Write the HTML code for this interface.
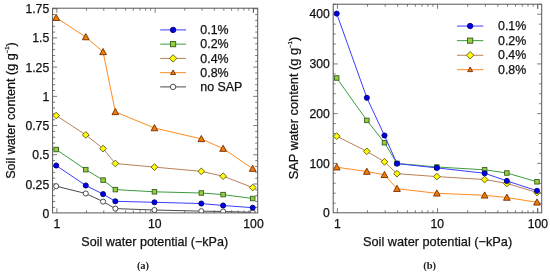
<!DOCTYPE html>
<html><head><meta charset="utf-8"><title>Soil water content</title>
<style>
html,body{margin:0;padding:0;background:#fff;}
svg{display:block;}
text{font-family:"Liberation Sans", Arial, sans-serif;font-size:12.55px;fill:#111;stroke:#111;stroke-width:0.25px;}
text.cap{font-family:"Liberation Serif","Times New Roman",serif;font-weight:bold;font-size:10.5px;fill:#222;stroke:none;}
tspan.sup{font-size:6px;}
text.tk{font-size:12.2px;}
text.lg{font-size:12.4px;}
</style></head>
<body>
<svg width="550" height="274" viewBox="0 0 550 274">
<rect width="550" height="274" fill="#fff"/>
<clipPath id="cpa"><rect x="52.6" y="8.2" width="205.1" height="204.70000000000002"/></clipPath>
<path d="M56.90 212.9v-4.6M56.90 8.2v4.6M86.48 212.9v-2.5M86.48 8.2v2.5M103.78 212.9v-2.5M103.78 8.2v2.5M116.05 212.9v-2.5M116.05 8.2v2.5M125.57 212.9v-2.5M125.57 8.2v2.5M133.35 212.9v-2.5M133.35 8.2v2.5M139.93 212.9v-2.5M139.93 8.2v2.5M145.63 212.9v-2.5M145.63 8.2v2.5M150.65 212.9v-2.5M150.65 8.2v2.5M155.15 212.9v-4.6M155.15 8.2v4.6M184.73 212.9v-2.5M184.73 8.2v2.5M202.03 212.9v-2.5M202.03 8.2v2.5M214.30 212.9v-2.5M214.30 8.2v2.5M223.82 212.9v-2.5M223.82 8.2v2.5M231.60 212.9v-2.5M231.60 8.2v2.5M238.18 212.9v-2.5M238.18 8.2v2.5M243.88 212.9v-2.5M243.88 8.2v2.5M248.90 212.9v-2.5M248.90 8.2v2.5M253.40 212.9v-4.6M253.40 8.2v4.6M253.40 212.9v-4.6M253.40 8.2v4.6M52.6 207.36h2.5M257.7 207.36h-2.5M52.6 201.52h2.5M257.7 201.52h-2.5M52.6 195.67h2.5M257.7 195.67h-2.5M52.6 189.83h2.5M257.7 189.83h-2.5M52.6 183.99h4.5M257.7 183.99h-4.5M52.6 178.15h2.5M257.7 178.15h-2.5M52.6 172.30h2.5M257.7 172.30h-2.5M52.6 166.46h2.5M257.7 166.46h-2.5M52.6 160.62h2.5M257.7 160.62h-2.5M52.6 154.78h4.5M257.7 154.78h-4.5M52.6 148.93h2.5M257.7 148.93h-2.5M52.6 143.09h2.5M257.7 143.09h-2.5M52.6 137.25h2.5M257.7 137.25h-2.5M52.6 131.41h2.5M257.7 131.41h-2.5M52.6 125.56h4.5M257.7 125.56h-4.5M52.6 119.72h2.5M257.7 119.72h-2.5M52.6 113.88h2.5M257.7 113.88h-2.5M52.6 108.04h2.5M257.7 108.04h-2.5M52.6 102.19h2.5M257.7 102.19h-2.5M52.6 96.35h4.5M257.7 96.35h-4.5M52.6 90.51h2.5M257.7 90.51h-2.5M52.6 84.67h2.5M257.7 84.67h-2.5M52.6 78.82h2.5M257.7 78.82h-2.5M52.6 72.98h2.5M257.7 72.98h-2.5M52.6 67.14h4.5M257.7 67.14h-4.5M52.6 61.30h2.5M257.7 61.30h-2.5M52.6 55.45h2.5M257.7 55.45h-2.5M52.6 49.61h2.5M257.7 49.61h-2.5M52.6 43.77h2.5M257.7 43.77h-2.5M52.6 37.93h4.5M257.7 37.93h-4.5M52.6 32.08h2.5M257.7 32.08h-2.5M52.6 26.24h2.5M257.7 26.24h-2.5M52.6 20.40h2.5M257.7 20.40h-2.5M52.6 14.55h2.5M257.7 14.55h-2.5M52.6 8.71h4.5M257.7 8.71h-4.5" stroke="#585858" stroke-width="0.8" fill="none"/>
<g clip-path="url(#cpa)"><polyline points="56.20,186.20 85.78,193.50 103.08,201.60 115.35,208.60 154.45,210.00 201.33,211.15 223.12,211.50 252.70,212.30" fill="none" stroke="#4a4a4a" stroke-width="1.0" stroke-linejoin="round"/><circle cx="56.20" cy="186.20" r="2.55" fill="#ffffff" stroke="#3a3a3a" stroke-width="0.9"/><circle cx="85.78" cy="193.50" r="2.55" fill="#ffffff" stroke="#3a3a3a" stroke-width="0.9"/><circle cx="103.08" cy="201.60" r="2.55" fill="#ffffff" stroke="#3a3a3a" stroke-width="0.9"/><circle cx="115.35" cy="208.60" r="2.55" fill="#ffffff" stroke="#3a3a3a" stroke-width="0.9"/><circle cx="154.45" cy="210.00" r="2.55" fill="#ffffff" stroke="#3a3a3a" stroke-width="0.9"/><circle cx="201.33" cy="211.15" r="2.55" fill="#ffffff" stroke="#3a3a3a" stroke-width="0.9"/><circle cx="223.12" cy="211.50" r="2.55" fill="#ffffff" stroke="#3a3a3a" stroke-width="0.9"/><circle cx="252.70" cy="212.30" r="2.55" fill="#ffffff" stroke="#3a3a3a" stroke-width="0.9"/><polyline points="56.20,17.70 85.78,37.00 103.08,51.90 115.35,111.90 154.45,128.00 201.33,138.90 223.12,148.60 252.70,168.60" fill="none" stroke="#ff8c1e" stroke-width="1.0" stroke-linejoin="round"/><path d="M52.85 20.45L56.20 14.30L59.55 20.45Z" fill="#f57a00" stroke="#6e2e00" stroke-width="0.9"/><path d="M82.43 39.75L85.78 33.60L89.13 39.75Z" fill="#f57a00" stroke="#6e2e00" stroke-width="0.9"/><path d="M99.73 54.65L103.08 48.50L106.43 54.65Z" fill="#f57a00" stroke="#6e2e00" stroke-width="0.9"/><path d="M112.00 114.65L115.35 108.50L118.70 114.65Z" fill="#f57a00" stroke="#6e2e00" stroke-width="0.9"/><path d="M151.10 130.75L154.45 124.60L157.80 130.75Z" fill="#f57a00" stroke="#6e2e00" stroke-width="0.9"/><path d="M197.98 141.65L201.33 135.50L204.68 141.65Z" fill="#f57a00" stroke="#6e2e00" stroke-width="0.9"/><path d="M219.77 151.35L223.12 145.20L226.47 151.35Z" fill="#f57a00" stroke="#6e2e00" stroke-width="0.9"/><path d="M249.35 171.35L252.70 165.20L256.05 171.35Z" fill="#f57a00" stroke="#6e2e00" stroke-width="0.9"/><polyline points="56.20,115.50 85.78,134.90 103.08,148.60 115.35,163.50 154.45,167.10 201.33,171.35 223.12,176.20 252.70,187.55" fill="none" stroke="#b9805a" stroke-width="1.0" stroke-linejoin="round"/><path d="M52.85 115.50L56.20 112.15L59.55 115.50L56.20 118.85Z" fill="#ffff00" stroke="#5c5418" stroke-width="0.9"/><path d="M82.43 134.90L85.78 131.55L89.13 134.90L85.78 138.25Z" fill="#ffff00" stroke="#5c5418" stroke-width="0.9"/><path d="M99.73 148.60L103.08 145.25L106.43 148.60L103.08 151.95Z" fill="#ffff00" stroke="#5c5418" stroke-width="0.9"/><path d="M112.00 163.50L115.35 160.15L118.70 163.50L115.35 166.85Z" fill="#ffff00" stroke="#5c5418" stroke-width="0.9"/><path d="M151.10 167.10L154.45 163.75L157.80 167.10L154.45 170.45Z" fill="#ffff00" stroke="#5c5418" stroke-width="0.9"/><path d="M197.98 171.35L201.33 168.00L204.68 171.35L201.33 174.70Z" fill="#ffff00" stroke="#5c5418" stroke-width="0.9"/><path d="M219.77 176.20L223.12 172.85L226.47 176.20L223.12 179.55Z" fill="#ffff00" stroke="#5c5418" stroke-width="0.9"/><path d="M249.35 187.55L252.70 184.20L256.05 187.55L252.70 190.90Z" fill="#ffff00" stroke="#5c5418" stroke-width="0.9"/><polyline points="56.20,149.50 85.78,169.65 103.08,180.10 115.35,189.60 154.45,191.80 201.33,193.00 223.12,194.60 252.70,198.50" fill="none" stroke="#3c9c3c" stroke-width="1.0" stroke-linejoin="round"/><rect x="53.95" y="147.25" width="4.5" height="4.5" fill="#9acd3c" stroke="#33601f" stroke-width="0.9"/><rect x="83.53" y="167.40" width="4.5" height="4.5" fill="#9acd3c" stroke="#33601f" stroke-width="0.9"/><rect x="100.83" y="177.85" width="4.5" height="4.5" fill="#9acd3c" stroke="#33601f" stroke-width="0.9"/><rect x="113.10" y="187.35" width="4.5" height="4.5" fill="#9acd3c" stroke="#33601f" stroke-width="0.9"/><rect x="152.20" y="189.55" width="4.5" height="4.5" fill="#9acd3c" stroke="#33601f" stroke-width="0.9"/><rect x="199.08" y="190.75" width="4.5" height="4.5" fill="#9acd3c" stroke="#33601f" stroke-width="0.9"/><rect x="220.87" y="192.35" width="4.5" height="4.5" fill="#9acd3c" stroke="#33601f" stroke-width="0.9"/><rect x="250.45" y="196.25" width="4.5" height="4.5" fill="#9acd3c" stroke="#33601f" stroke-width="0.9"/><polyline points="56.20,165.50 85.78,185.50 103.08,194.10 115.35,201.30 154.45,202.30 201.33,203.55 223.12,205.50 252.70,207.70" fill="none" stroke="#3c3cff" stroke-width="1.0" stroke-linejoin="round"/><circle cx="56.20" cy="165.50" r="2.55" fill="#0000e6" stroke="#000078" stroke-width="0.9"/><circle cx="85.78" cy="185.50" r="2.55" fill="#0000e6" stroke="#000078" stroke-width="0.9"/><circle cx="103.08" cy="194.10" r="2.55" fill="#0000e6" stroke="#000078" stroke-width="0.9"/><circle cx="115.35" cy="201.30" r="2.55" fill="#0000e6" stroke="#000078" stroke-width="0.9"/><circle cx="154.45" cy="202.30" r="2.55" fill="#0000e6" stroke="#000078" stroke-width="0.9"/><circle cx="201.33" cy="203.55" r="2.55" fill="#0000e6" stroke="#000078" stroke-width="0.9"/><circle cx="223.12" cy="205.50" r="2.55" fill="#0000e6" stroke="#000078" stroke-width="0.9"/><circle cx="252.70" cy="207.70" r="2.55" fill="#0000e6" stroke="#000078" stroke-width="0.9"/></g>
<rect x="52.6" y="8.2" width="205.1" height="204.70000000000002" fill="none" stroke="#585858" stroke-width="1"/>
<text class="tk" x="49.2" y="217.75" text-anchor="end">0</text>
<text class="tk" x="49.2" y="188.54" text-anchor="end">0.25</text>
<text class="tk" x="49.2" y="159.33" text-anchor="end">0.5</text>
<text class="tk" x="49.2" y="130.11" text-anchor="end">0.75</text>
<text class="tk" x="49.2" y="100.90" text-anchor="end">1</text>
<text class="tk" x="49.2" y="71.69" text-anchor="end">1.25</text>
<text class="tk" x="49.2" y="42.48" text-anchor="end">1.5</text>
<text class="tk" x="49.2" y="12.86" text-anchor="end">1.75</text>
<text x="57.00" y="228.00" text-anchor="middle" class="tk">1</text>
<text x="154.85" y="228.00" text-anchor="middle" class="tk">10</text>
<text x="253.50" y="228.00" text-anchor="middle" class="tk">100</text>
<text x="154.75" y="246.4" text-anchor="middle" style="font-size:12.55px">Soil water potential (−kPa)</text>
<text transform="translate(14.7 110.55) rotate(-90)" text-anchor="middle" style="font-size:12.62px">Soil water content (g g<tspan class="sup" dy="-6.2">−1</tspan><tspan dy="6.2">)</tspan></text>
<path d="M160.2 29.9H186.0" stroke="#3c3cff" stroke-width="1"/>
<circle cx="173.10" cy="29.90" r="2.7" fill="#0000e6" stroke="#000078" stroke-width="0.9"/>
<text class="lg" x="200.3" y="34.00">0.1%</text>
<path d="M160.2 44.15H186.0" stroke="#3c9c3c" stroke-width="1"/>
<rect x="170.50" y="41.55" width="5.2" height="5.2" fill="#9acd3c" stroke="#33601f" stroke-width="0.9"/>
<text class="lg" x="200.3" y="48.25">0.2%</text>
<path d="M160.2 58.4H186.0" stroke="#b9805a" stroke-width="1"/>
<path d="M169.40 58.40L173.10 54.70L176.80 58.40L173.10 62.10Z" fill="#ffff00" stroke="#5c5418" stroke-width="0.9"/>
<text class="lg" x="200.3" y="62.50">0.4%</text>
<path d="M160.2 72.65H186.0" stroke="#ff8c1e" stroke-width="1"/>
<path d="M170.60 74.55L173.10 69.95L175.60 74.55Z" fill="#f57a00" stroke="#6e2e00" stroke-width="0.9"/>
<text class="lg" x="200.3" y="76.75">0.8%</text>
<path d="M160.2 86.9H186.0" stroke="#4a4a4a" stroke-width="1"/>
<circle cx="173.10" cy="86.90" r="2.7" fill="#ffffff" stroke="#3a3a3a" stroke-width="0.9"/>
<text class="lg" x="200.3" y="91.00">no SAP</text>
<text x="143" y="269.3" text-anchor="middle" class="cap">(a)</text>
<clipPath id="cpb"><rect x="333.2" y="4.2" width="208.50000000000006" height="208.60000000000002"/></clipPath>
<path d="M337.40 212.8v-4.6M337.40 4.2v4.6M367.55 212.8v-2.5M367.55 4.2v2.5M385.18 212.8v-2.5M385.18 4.2v2.5M397.70 212.8v-2.5M397.70 4.2v2.5M407.40 212.8v-2.5M407.40 4.2v2.5M415.33 212.8v-2.5M415.33 4.2v2.5M422.04 212.8v-2.5M422.04 4.2v2.5M427.84 212.8v-2.5M427.84 4.2v2.5M432.97 212.8v-2.5M432.97 4.2v2.5M437.55 212.8v-4.6M437.55 4.2v4.6M467.70 212.8v-2.5M467.70 4.2v2.5M485.33 212.8v-2.5M485.33 4.2v2.5M497.85 212.8v-2.5M497.85 4.2v2.5M507.55 212.8v-2.5M507.55 4.2v2.5M515.48 212.8v-2.5M515.48 4.2v2.5M522.19 212.8v-2.5M522.19 4.2v2.5M527.99 212.8v-2.5M527.99 4.2v2.5M533.12 212.8v-2.5M533.12 4.2v2.5M537.70 212.8v-4.6M537.70 4.2v4.6M537.70 212.8v-4.6M537.70 4.2v4.6M333.2 203.16h2.5M541.7 203.16h-2.5M333.2 193.21h2.5M541.7 193.21h-2.5M333.2 183.27h2.5M541.7 183.27h-2.5M333.2 173.32h2.5M541.7 173.32h-2.5M333.2 163.38h4.5M541.7 163.38h-4.5M333.2 153.43h2.5M541.7 153.43h-2.5M333.2 143.49h2.5M541.7 143.49h-2.5M333.2 133.54h2.5M541.7 133.54h-2.5M333.2 123.59h2.5M541.7 123.59h-2.5M333.2 113.65h4.5M541.7 113.65h-4.5M333.2 103.70h2.5M541.7 103.70h-2.5M333.2 93.76h2.5M541.7 93.76h-2.5M333.2 83.82h2.5M541.7 83.82h-2.5M333.2 73.87h2.5M541.7 73.87h-2.5M333.2 63.92h4.5M541.7 63.92h-4.5M333.2 53.98h2.5M541.7 53.98h-2.5M333.2 44.04h2.5M541.7 44.04h-2.5M333.2 34.09h2.5M541.7 34.09h-2.5M333.2 24.14h2.5M541.7 24.14h-2.5M333.2 14.20h4.5M541.7 14.20h-4.5M333.2 4.26h2.5M541.7 4.26h-2.5" stroke="#585858" stroke-width="0.8" fill="none"/>
<g clip-path="url(#cpb)"><polyline points="336.70,167.20 366.85,171.55 384.48,174.80 397.00,188.70 436.85,193.30 484.63,195.30 506.85,197.50 537.00,202.30" fill="none" stroke="#ff8c1e" stroke-width="1.0" stroke-linejoin="round"/><path d="M333.35 169.95L336.70 163.80L340.05 169.95Z" fill="#f57a00" stroke="#6e2e00" stroke-width="0.9"/><path d="M363.50 174.30L366.85 168.15L370.20 174.30Z" fill="#f57a00" stroke="#6e2e00" stroke-width="0.9"/><path d="M381.13 177.55L384.48 171.40L387.83 177.55Z" fill="#f57a00" stroke="#6e2e00" stroke-width="0.9"/><path d="M393.65 191.45L397.00 185.30L400.35 191.45Z" fill="#f57a00" stroke="#6e2e00" stroke-width="0.9"/><path d="M433.50 196.05L436.85 189.90L440.20 196.05Z" fill="#f57a00" stroke="#6e2e00" stroke-width="0.9"/><path d="M481.28 198.05L484.63 191.90L487.98 198.05Z" fill="#f57a00" stroke="#6e2e00" stroke-width="0.9"/><path d="M503.50 200.25L506.85 194.10L510.20 200.25Z" fill="#f57a00" stroke="#6e2e00" stroke-width="0.9"/><path d="M533.65 205.05L537.00 198.90L540.35 205.05Z" fill="#f57a00" stroke="#6e2e00" stroke-width="0.9"/><polyline points="336.70,136.20 366.85,151.35 384.48,161.80 397.00,173.70 436.85,176.60 484.63,179.55 506.85,183.40 537.00,192.50" fill="none" stroke="#b9805a" stroke-width="1.0" stroke-linejoin="round"/><path d="M333.35 136.20L336.70 132.85L340.05 136.20L336.70 139.55Z" fill="#ffff00" stroke="#5c5418" stroke-width="0.9"/><path d="M363.50 151.35L366.85 148.00L370.20 151.35L366.85 154.70Z" fill="#ffff00" stroke="#5c5418" stroke-width="0.9"/><path d="M381.13 161.80L384.48 158.45L387.83 161.80L384.48 165.15Z" fill="#ffff00" stroke="#5c5418" stroke-width="0.9"/><path d="M393.65 173.70L397.00 170.35L400.35 173.70L397.00 177.05Z" fill="#ffff00" stroke="#5c5418" stroke-width="0.9"/><path d="M433.50 176.60L436.85 173.25L440.20 176.60L436.85 179.95Z" fill="#ffff00" stroke="#5c5418" stroke-width="0.9"/><path d="M481.28 179.55L484.63 176.20L487.98 179.55L484.63 182.90Z" fill="#ffff00" stroke="#5c5418" stroke-width="0.9"/><path d="M503.50 183.40L506.85 180.05L510.20 183.40L506.85 186.75Z" fill="#ffff00" stroke="#5c5418" stroke-width="0.9"/><path d="M533.65 192.50L537.00 189.15L540.35 192.50L537.00 195.85Z" fill="#ffff00" stroke="#5c5418" stroke-width="0.9"/><polyline points="336.70,78.00 366.85,120.40 384.48,142.70 397.00,163.40 436.85,167.00 484.63,169.80 506.85,173.00 537.00,181.80" fill="none" stroke="#3c9c3c" stroke-width="1.0" stroke-linejoin="round"/><rect x="334.45" y="75.75" width="4.5" height="4.5" fill="#9acd3c" stroke="#33601f" stroke-width="0.9"/><rect x="364.60" y="118.15" width="4.5" height="4.5" fill="#9acd3c" stroke="#33601f" stroke-width="0.9"/><rect x="382.23" y="140.45" width="4.5" height="4.5" fill="#9acd3c" stroke="#33601f" stroke-width="0.9"/><rect x="394.75" y="161.15" width="4.5" height="4.5" fill="#9acd3c" stroke="#33601f" stroke-width="0.9"/><rect x="434.60" y="164.75" width="4.5" height="4.5" fill="#9acd3c" stroke="#33601f" stroke-width="0.9"/><rect x="482.38" y="167.55" width="4.5" height="4.5" fill="#9acd3c" stroke="#33601f" stroke-width="0.9"/><rect x="504.60" y="170.75" width="4.5" height="4.5" fill="#9acd3c" stroke="#33601f" stroke-width="0.9"/><rect x="534.75" y="179.55" width="4.5" height="4.5" fill="#9acd3c" stroke="#33601f" stroke-width="0.9"/><polyline points="336.70,13.60 366.85,97.80 384.48,135.50 397.00,163.60 436.85,167.90 484.63,173.25 506.85,180.90 537.00,190.80" fill="none" stroke="#3c3cff" stroke-width="1.0" stroke-linejoin="round"/><circle cx="336.70" cy="13.60" r="2.55" fill="#0000e6" stroke="#000078" stroke-width="0.9"/><circle cx="366.85" cy="97.80" r="2.55" fill="#0000e6" stroke="#000078" stroke-width="0.9"/><circle cx="384.48" cy="135.50" r="2.55" fill="#0000e6" stroke="#000078" stroke-width="0.9"/><circle cx="397.00" cy="163.60" r="2.55" fill="#0000e6" stroke="#000078" stroke-width="0.9"/><circle cx="436.85" cy="167.90" r="2.55" fill="#0000e6" stroke="#000078" stroke-width="0.9"/><circle cx="484.63" cy="173.25" r="2.55" fill="#0000e6" stroke="#000078" stroke-width="0.9"/><circle cx="506.85" cy="180.90" r="2.55" fill="#0000e6" stroke="#000078" stroke-width="0.9"/><circle cx="537.00" cy="190.80" r="2.55" fill="#0000e6" stroke="#000078" stroke-width="0.9"/></g>
<rect x="333.2" y="4.2" width="208.50000000000006" height="208.60000000000002" fill="none" stroke="#585858" stroke-width="1"/>
<text class="tk" x="329.8" y="216.75" text-anchor="end">0</text>
<text class="tk" x="329.8" y="167.93" text-anchor="end">100</text>
<text class="tk" x="329.8" y="118.20" text-anchor="end">200</text>
<text class="tk" x="329.8" y="68.47" text-anchor="end">300</text>
<text class="tk" x="329.8" y="18.35" text-anchor="end">400</text>
<text x="337.50" y="227.90" text-anchor="middle" class="tk">1</text>
<text x="437.25" y="227.90" text-anchor="middle" class="tk">10</text>
<text x="537.80" y="227.90" text-anchor="middle" class="tk">100</text>
<text x="437.60" y="246.2" text-anchor="middle" style="font-size:12.76px">Soil water potential (−kPa)</text>
<text transform="translate(298.3 108.05) rotate(-90)" text-anchor="middle" style="font-size:12.8px">SAP water content (g g<tspan class="sup" dy="-6.2">−1</tspan><tspan dy="6.2">)</tspan></text>
<path d="M457.0 26.05H483.3" stroke="#3c3cff" stroke-width="1"/>
<circle cx="470.15" cy="26.05" r="2.7" fill="#0000e6" stroke="#000078" stroke-width="0.9"/>
<text class="lg" x="498.0" y="30.15">0.1%</text>
<path d="M457.0 40.65H483.3" stroke="#3c9c3c" stroke-width="1"/>
<rect x="467.55" y="38.05" width="5.2" height="5.2" fill="#9acd3c" stroke="#33601f" stroke-width="0.9"/>
<text class="lg" x="498.0" y="44.75">0.2%</text>
<path d="M457.0 55.25H483.3" stroke="#b9805a" stroke-width="1"/>
<path d="M466.45 55.25L470.15 51.55L473.85 55.25L470.15 58.95Z" fill="#ffff00" stroke="#5c5418" stroke-width="0.9"/>
<text class="lg" x="498.0" y="59.35">0.4%</text>
<path d="M457.0 69.7H483.3" stroke="#ff8c1e" stroke-width="1"/>
<path d="M467.65 71.60L470.15 67.00L472.65 71.60Z" fill="#f57a00" stroke="#6e2e00" stroke-width="0.9"/>
<text class="lg" x="498.0" y="73.80">0.8%</text>
<text x="429.6" y="269.0" text-anchor="middle" class="cap">(b)</text>
</svg>
</body></html>
